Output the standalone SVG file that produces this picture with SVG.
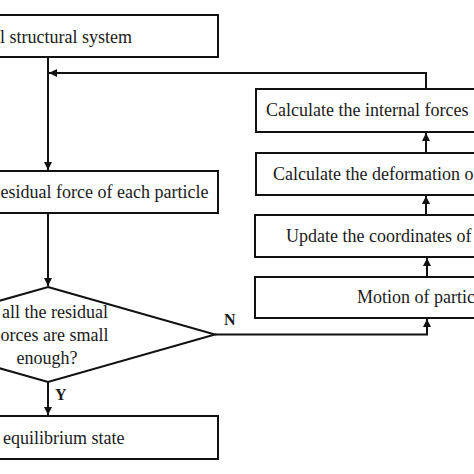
<svg xmlns="http://www.w3.org/2000/svg" width="474" height="474" viewBox="0 0 474 474">
<style>
.box{fill:#fff;stroke:#111;stroke-width:2}
.t{font-family:'Liberation Serif','Times New Roman',Tinos,'DejaVu Serif',serif;font-size:18px;fill:#1a1a1a}
.lbl{font-family:'Liberation Serif','Times New Roman',Tinos,'DejaVu Serif',serif;font-size:16px;font-weight:bold;fill:#1a1a1a}
.c{fill:none;stroke:#111;stroke-width:2}
</style>
<defs>
<marker id="ah" viewBox="0 0 10 10" refX="10" refY="5" markerWidth="4" markerHeight="4" orient="auto" markerUnits="strokeWidth">
<path d="M0,0 L10,5 L0,10 z" fill="#111"/>
</marker>
</defs>
<rect width="474" height="474" fill="#fff"/>
<g id="connectors">
<path class="c" d="M48,57 V170" marker-end="url(#ah)"/>
<path class="c" d="M426,89 V73 H49" marker-end="url(#ah)"/>
<path class="c" d="M48,213 V286" marker-end="url(#ah)"/>
<path class="c" d="M48,382 V415" marker-end="url(#ah)"/>
<path class="c" d="M215,334.5 H427 V319" marker-end="url(#ah)"/>
<path class="c" d="M427,277 V258" marker-end="url(#ah)"/>
<path class="c" d="M426,215 V196" marker-end="url(#ah)"/>
<path class="c" d="M426,153 V133" marker-end="url(#ah)"/>
<text class="lbl" x="224" y="325">N</text>
<text class="lbl" x="55" y="400">Y</text>
</g>
<g id="n1">
<rect class="box" x="-10" y="15" width="228" height="42"/>
<text class="t" x="0" y="43">l structural system</text>
</g>
<g id="n2">
<rect class="box" x="-10" y="171" width="228" height="42"/>
<text class="t" x="0.5" y="198">esidual force of each particle</text>
</g>
<g id="n3">
<polygon class="box" points="48,287 215,334.5 48,382 -119,334.5"/>
<text class="t" x="108" y="318" text-anchor="end">all the residual</text>
<text class="t" x="0.5" y="341">orces are small</text>
<text class="t" x="47" y="364" text-anchor="middle">enough?</text>
</g>
<g id="n4">
<rect class="box" x="-10" y="416" width="228" height="43"/>
<text class="t" x="3" y="444">equilibrium state</text>
</g>
<g id="n5">
<rect class="box" x="256" y="89" width="230" height="43"/>
<text class="t" x="266" y="116">Calculate the internal forces</text>
</g>
<g id="n6">
<rect class="box" x="256" y="153" width="230" height="42"/>
<text class="t" x="273" y="180">Calculate the deformation o</text>
</g>
<g id="n7">
<rect class="box" x="255" y="215" width="230" height="42"/>
<text class="t" x="286" y="242">Update the coordinates of</text>
</g>
<g id="n8">
<rect class="box" x="255" y="277" width="230" height="41"/>
<text class="t" x="357" y="303">Motion of partic</text>
</g>
</svg>
